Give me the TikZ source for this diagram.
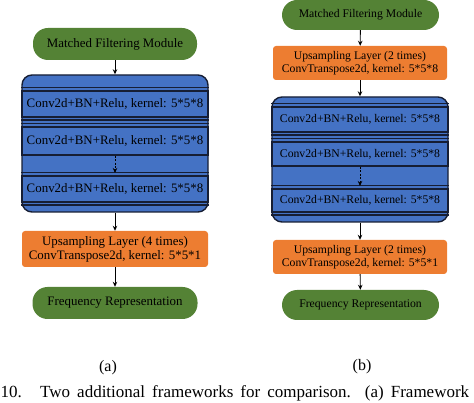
\documentclass[tikz,border=0pt]{standalone}
\usepackage{fontspec}
\setmainfont{Liberation Serif}
\definecolor{modgreen}{RGB}{84, 130, 53}
\definecolor{uporange}{RGB}{237, 125, 49}
\definecolor{convblue}{RGB}{68, 114, 196}
\definecolor{convedge}{RGB}{22, 30, 52}
\usetikzlibrary{arrows.meta, positioning, calc}

\begin{document}
\begin{tikzpicture}[x=1pt, y=-1pt,
  modbox/.style={fill=modgreen, rounded corners=15pt, inner sep=0pt, align=center},
  upbox/.style={fill=uporange, rounded corners=3pt, inner sep=0pt, align=center},
  outerbox/.style={draw=convedge, fill=convblue, line width=1.4pt, rounded corners=10pt, inner sep=0pt},
  convrow/.style={draw=convedge, fill=convblue, line width=1.1pt, inner sep=0pt},
  rowline/.style={draw=convedge, line width=1.1pt},
  flow/.style={-{Stealth[length=5pt, width=4.5pt]}, line width=0.9pt, black},
  fonta/.style={font=\fontsize{12.9}{14}\selectfont},
  fontb/.style={font=\fontsize{11.7}{13.5}\selectfont},
  capfont/.style={font=\fontsize{16}{19}\selectfont, inner sep=0pt}]
  \useasboundingbox (0,0) rectangle (474,403);
  \clip (0,0) rectangle (474,403);

  % (a)
  \node[modbox, fonta, minimum width=164pt, minimum height=32pt] (ma) at (115,44) {Matched Filtering Module};
  \node[outerbox, minimum width=186pt, minimum height=137pt] (ba) at (115,143.5) {};
  \node[convrow, fonta, minimum width=186pt, minimum height=26pt] (r1a) at (115,104) {Conv2d+BN+Relu, kernel: 5*5*8};
  \node[convrow, fonta, minimum width=186pt, minimum height=28pt] (r2a) at (115,141) {Conv2d+BN+Relu, kernel: 5*5*8};
  \node[convrow, fonta, minimum width=186pt, minimum height=26pt] (r3a) at (115,189) {Conv2d+BN+Relu, kernel: 5*5*8};
  \node[upbox, fonta, minimum width=186pt, minimum height=36pt] (ua) at (115,249) {Upsampling Layer (4 times)\\ConvTranspose2d, kernel: 5*5*1};
  \node[modbox, fonta, minimum width=165pt, minimum height=32pt] (fa) at (115,303) {Frequency Representation};
  \node[capfont] (capa) at (108,368) {(a)};

  % (b)
  \node[modbox, fontb, minimum width=157pt, minimum height=30pt] (mb) at (360.5,15) {Matched Filtering Module};
  \node[upbox, fontb, minimum width=174pt, minimum height=34pt] (ub1) at (360,63) {Upsampling Layer (2 times)\\ConvTranspose2d, kernel: 5*5*8};
  \node[outerbox, minimum width=176pt, minimum height=125pt] (bb) at (360,159.5) {};
  \node[convrow, fontb, minimum width=176pt, minimum height=25pt] (r1b) at (360,119.5) {Conv2d+BN+Relu, kernel: 5*5*8};
  \node[convrow, fontb, minimum width=176pt, minimum height=24pt] (r2b) at (360,154) {Conv2d+BN+Relu, kernel: 5*5*8};
  \node[convrow, fontb, minimum width=176pt, minimum height=23pt] (r3b) at (360,200.5) {Conv2d+BN+Relu, kernel: 5*5*8};
  \node[upbox, fontb, minimum width=174pt, minimum height=34pt] (ub2) at (360,257) {Upsampling Layer (2 times)\\ConvTranspose2d, kernel: 5*5*1};
  \node[modbox, fontb, minimum width=157pt, minimum height=30pt] (fb) at (360.5,305) {Frequency Representation};
  \node[capfont] (capb) at (362,367) {(b)};

  % stacked edges of the conv rows
  \foreach \r in {r1a, r2a, r3a, r1b, r2b, r3b}
    \draw[rowline] ([yshift=2.5pt]\r.north west) -- ([yshift=2.5pt]\r.north east);
  \foreach \r in {r1a, r3a, r1b, r3b}
    \draw[rowline] ([yshift=-2.5pt]\r.south west) -- ([yshift=-2.5pt]\r.south east);

  \draw[flow] (ma) -- (ba);
  \draw[flow, dash pattern=on 2pt off 1.5pt] (r2a) -- ([yshift=2.5pt]r3a.north);
  \draw[flow] (ba) -- (ua);
  \draw[flow] (ua) -- (fa);

  \draw[flow] (mb) -- (ub1);
  \draw[flow] (ub1) -- (bb);
  \draw[flow, dash pattern=on 2pt off 1.5pt] (r2b) -- ([yshift=2.5pt]r3b.north);
  \draw[flow] (bb) -- (ub2);
  \draw[flow] (ub2) -- (fb);

  % caption line
  \node[capfont, font=\fontsize{17}{20}\selectfont, anchor=base east] (fignum) at (22,397) {10.};
  \node[capfont, font=\fontsize{17}{20}\selectfont, anchor=base west] (figcap) at (40,397)
    {\makebox[429pt][s]{Two additional frameworks for comparison. (a) Framework}};
\end{tikzpicture}
\end{document}
